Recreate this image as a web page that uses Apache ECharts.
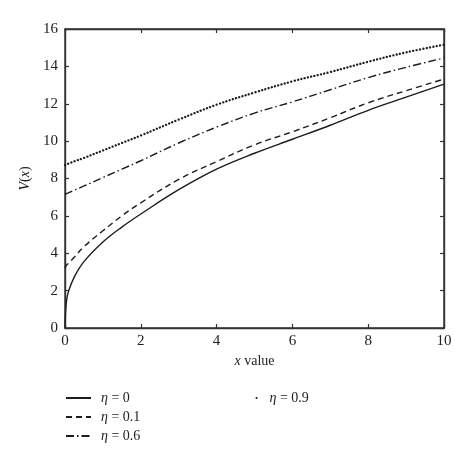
<!DOCTYPE html>
<html>
<head>
<meta charset="utf-8">
<script src="https://cdn.jsdelivr.net/npm/echarts@6/dist/echarts.min.js"></script>
<style>
  html, body { margin: 0; padding: 0; background: #fff; }
  #main { width: 474px; height: 466px; }
</style>
</head>
<body>
<div id="main"></div>
<script>
// x 取值
var xs = [0, 0.02, 0.05, 0.1, 0.25, 0.5, 1, 1.5, 2, 3, 4, 5, 6, 7, 8, 9, 10];
// 各 η 对应的 V(x)
var eta0 = [0, 1.0, 1.6, 2.0, 2.75, 3.55, 4.6, 5.4, 6.1, 7.4, 8.5, 9.35, 10.1, 10.85, 11.65, 12.35, 13.05];
var eta01 = [3.2, 3.3, 3.38, 3.48, 3.8, 4.35, 5.2, 6.0, 6.7, 7.95, 8.9, 9.8, 10.5, 11.25, 12.05, 12.7, 13.32];
var eta06 = [7.15, 7.17, 7.2, 7.24, 7.38, 7.6, 8.05, 8.5, 8.95, 9.9, 10.75, 11.5, 12.1, 12.75, 13.4, 13.95, 14.45];
var eta09 = [8.72, 8.74, 8.76, 8.8, 8.92, 9.1, 9.5, 9.9, 10.3, 11.15, 11.95, 12.6, 13.2, 13.7, 14.25, 14.75, 15.16];
var names = ["η = 0", "η = 0.1", "η = 0.6", "η = 0.9"];

var serif = "Liberation Serif";
var ink = "#1c1c1c";

function pairs(ys) {
  return xs.map(function (x, i) { return [x, ys[i]]; });
}

var myChart = echarts.init(document.getElementById("main"));

function mkSeries(name, ys, lineStyle) {
  return {
    name: name,
    type: "line",
    data: pairs(ys),
    symbol: "none",
    smooth: 0.4,
    lineStyle: Object.assign({ color: ink, width: 1.4 }, lineStyle),
    itemStyle: { color: ink },
    animation: false
  };
}

function axisBase() {
  return {
    type: "value",
    axisLine: { show: true, onZero: false, lineStyle: { color: "#333", width: 1.4 } },
    axisTick: { show: true, inside: true, length: 4, lineStyle: { color: "#333", width: 1.2 } },
    splitLine: { show: false }
  };
}

var italic = { fontFamily: serif, fontStyle: "italic", fontSize: 14, color: "#222" };

var legendText = {
  fontFamily: serif,
  fontSize: 14,
  color: "#222",
  rich: { i: italic, s: { width: 5 } }
};

function legendFmt(n) {
  return "{s|}{i|η}" + n.slice(1);
}

var option = {
  backgroundColor: "#fff",
  animation: false,
  grid: { left: 65, right: 30, top: 29, bottom: 138, containLabel: false,
    show: true, borderColor: "#333", borderWidth: 1.4 },
  legend: [
    {
      data: names.slice(0, 3),
      orient: "vertical",
      left: 60,
      top: 386,
      itemWidth: 25,
      itemHeight: 10,
      itemGap: 5,
      itemStyle: { opacity: 0 },
      formatter: legendFmt,
      textStyle: legendText,
      selectedMode: false
    },
    {
      data: [names[3]],
      orient: "vertical",
      left: 249,
      top: 386,
      itemWidth: 3,
      itemHeight: 10,
      itemStyle: { opacity: 0 },
      formatter: legendFmt,
      textStyle: legendText,
      selectedMode: false
    }
  ],
  xAxis: [
    Object.assign(axisBase(), {
      min: 0, max: 10, interval: 2,
      name: "{i|x} value",
      nameLocation: "middle",
      nameGap: 24,
      nameTextStyle: { fontFamily: serif, fontSize: 14, color: "#222", rich: { i: italic } },
      axisLabel: { fontFamily: serif, fontSize: 15, color: "#222", margin: 6 }
    }),
    Object.assign(axisBase(), {
      position: "top",
      min: 0, max: 10, interval: 2,
      axisLabel: { show: false }
    })
  ],
  yAxis: [
    Object.assign(axisBase(), {
      min: 0, max: 16, interval: 2,
      name: "{i|V}({i|x})",
      nameLocation: "middle",
      nameGap: 33,
      nameTextStyle: { fontFamily: serif, fontSize: 14, color: "#222", rich: { i: italic } },
      axisLabel: { fontFamily: serif, fontSize: 15, color: "#222", margin: 7 }
    }),
    Object.assign(axisBase(), {
      position: "right",
      min: 0, max: 16, interval: 2,
      axisLabel: { show: false }
    })
  ],
  series: [
    mkSeries(names[0], eta0, { type: "solid" }),
    mkSeries(names[1], eta01, { type: [6, 4] }),
    mkSeries(names[2], eta06, { type: [8, 3, 1.5, 3] }),
    mkSeries(names[3], eta09, { type: [0.1, 3.3], cap: "round", width: 2.3 }),
    // 空系列，让上方和右侧坐标轴也画出刻度
    { type: "line", xAxisIndex: 1, yAxisIndex: 1, data: [], symbol: "none" }
  ]
};

myChart.setOption(option);
window.addEventListener("resize", function () {
  myChart.resize();
});
</script>
</body>
</html>
